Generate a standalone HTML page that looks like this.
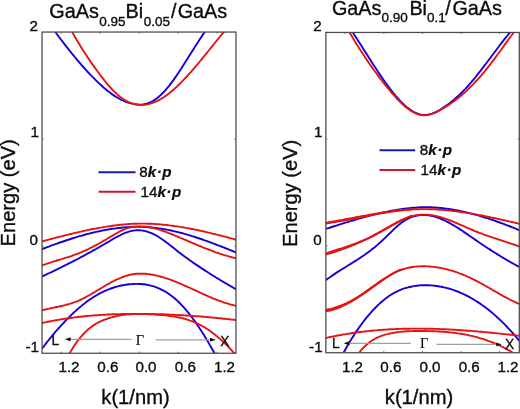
<!DOCTYPE html>
<html><head><meta charset="utf-8"><title>Band structure</title>
<style>
html,body{margin:0;padding:0;background:#fff;}
body{width:520px;height:409px;overflow:hidden;}
svg{display:block}
text{font-family:"Liberation Sans",sans-serif;fill:#0c0c0c;stroke:#0c0c0c;stroke-width:0.35px;}
.t{font-size:19.8px}
.a{font-size:20.2px}
.e{font-size:20.1px}
.s{font-size:13.5px}
.n{font-size:15.2px}
.g{font-size:15.2px}
.kp{font-weight:bold;font-style:italic;letter-spacing:0.5px;stroke-width:0.2px}
.sym{font-family:"Liberation Serif","DejaVu Serif",serif;font-size:14.5px;stroke-width:0.15px}
.lx{font-size:13.8px;stroke-width:0.3px}
</style></head><body>
<svg width="520" height="409" viewBox="0 0 520 409">
<rect width="520" height="409" fill="#fff"/>
<defs>
<clipPath id="cl"><rect x="42" y="32" width="194" height="321.4"/></clipPath>
<clipPath id="cr"><rect x="325.8" y="32.4" width="193.6" height="320.4"/></clipPath>
</defs>

<!-- LEFT PANEL -->
<g fill="none" stroke-width="1.9" stroke-linejoin="round" clip-path="url(#cl)">
<path d="M55.3,32.0 L56.8,34.0 L58.3,36.0 L59.8,38.0 L61.3,40.0 L62.8,41.9 L64.3,43.9 L65.8,45.8 L67.3,47.7 L68.8,49.6 L70.3,51.5 L71.8,53.4 L73.3,55.2 L74.8,57.0 L76.3,58.8 L77.8,60.6 L79.3,62.4 L80.8,64.1 L82.3,65.8 L83.8,67.5 L85.3,69.2 L86.8,70.8 L88.3,72.5 L89.8,74.1 L91.3,75.6 L92.8,77.2 L94.3,78.7 L95.8,80.2 L97.3,81.6 L98.8,83.1 L100.3,84.5 L101.8,85.8 L103.3,87.2 L104.8,88.5 L106.3,89.7 L107.8,91.0 L109.3,92.1 L110.8,93.3 L112.3,94.4 L113.8,95.4 L115.3,96.4 L116.8,97.3 L118.3,98.2 L119.8,99.0 L121.3,99.8 L122.8,100.5 L124.3,101.2 L125.8,101.8 L127.3,102.3 L128.8,102.8 L130.3,103.2 L131.8,103.6 L133.3,103.9 L134.8,104.2 L136.3,104.4 L137.8,104.5 L139.3,104.6 L140.8,104.6 L142.3,104.5 L143.8,104.3 L145.3,104.0 L146.8,103.6 L148.3,103.1 L149.8,102.5 L151.3,101.8 L152.8,101.0 L154.3,100.1 L155.8,99.1 L157.3,98.0 L158.8,96.7 L160.3,95.4 L161.8,94.0 L163.3,92.5 L164.8,90.9 L166.3,89.2 L167.8,87.4 L169.3,85.6 L170.8,83.6 L172.3,81.6 L173.8,79.6 L175.3,77.4 L176.8,75.2 L178.3,73.0 L179.8,70.7 L181.3,68.4 L182.8,66.1 L184.3,63.7 L185.8,61.3 L187.3,59.0 L188.8,56.6 L190.3,54.2 L191.8,51.8 L193.3,49.4 L194.8,47.1 L196.3,44.7 L197.8,42.4 L199.3,40.1 L200.8,37.8 L202.3,35.6 L203.8,33.3 L205.0,31.6" stroke="#1500d8"/>
<path d="M72.3,32.2 L73.8,34.9 L75.3,37.5 L76.8,40.1 L78.3,42.6 L79.8,45.1 L81.3,47.5 L82.8,49.9 L84.3,52.2 L85.8,54.5 L87.3,56.8 L88.8,59.0 L90.3,61.2 L91.8,63.4 L93.3,65.5 L94.8,67.6 L96.3,69.7 L97.8,71.8 L99.3,73.8 L100.8,75.8 L102.3,77.7 L103.8,79.6 L105.3,81.5 L106.8,83.3 L108.3,85.1 L109.8,86.8 L111.3,88.5 L112.8,90.1 L114.3,91.6 L115.8,93.0 L117.3,94.4 L118.8,95.7 L120.3,96.9 L121.8,98.0 L123.3,99.0 L124.8,100.0 L126.3,100.8 L127.8,101.6 L129.3,102.3 L130.8,102.9 L132.3,103.4 L133.8,103.9 L135.3,104.2 L136.8,104.5 L138.3,104.7 L139.8,104.9 L141.3,104.9 L142.8,104.9 L144.3,104.8 L145.8,104.6 L147.3,104.4 L148.8,104.1 L150.3,103.7 L151.8,103.2 L153.3,102.7 L154.8,102.1 L156.3,101.4 L157.8,100.7 L159.3,99.9 L160.8,99.0 L162.3,98.1 L163.8,97.2 L165.3,96.1 L166.8,95.1 L168.3,93.9 L169.8,92.8 L171.3,91.5 L172.8,90.3 L174.3,89.0 L175.8,87.6 L177.3,86.2 L178.8,84.8 L180.3,83.3 L181.8,81.8 L183.3,80.2 L184.8,78.6 L186.3,77.0 L187.8,75.4 L189.3,73.7 L190.8,72.1 L192.3,70.3 L193.8,68.6 L195.3,66.8 L196.8,65.1 L198.3,63.3 L199.8,61.5 L201.3,59.7 L202.8,57.8 L204.3,56.0 L205.8,54.2 L207.3,52.3 L208.8,50.5 L210.3,48.6 L211.8,46.7 L213.3,44.9 L214.8,43.0 L216.3,41.2 L217.8,39.3 L219.3,37.5 L220.8,35.7 L222.3,33.9 L223.8,32.1 L224.3,31.5" stroke="#e61212"/>
<path d="M42.0,249.1 L43.5,248.5 L45.0,248.0 L46.5,247.4 L48.0,246.8 L49.5,246.3 L51.0,245.7 L52.5,245.2 L54.0,244.6 L55.5,244.1 L57.0,243.6 L58.5,243.0 L60.0,242.5 L61.5,242.0 L63.0,241.5 L64.5,241.0 L66.0,240.5 L67.5,240.0 L69.0,239.5 L70.5,239.0 L72.0,238.5 L73.5,238.0 L75.0,237.6 L76.5,237.1 L78.0,236.7 L79.5,236.2 L81.0,235.8 L82.5,235.4 L84.0,235.0 L85.5,234.5 L87.0,234.1 L88.5,233.8 L90.0,233.4 L91.5,233.0 L93.0,232.6 L94.5,232.3 L96.0,231.9 L97.5,231.6 L99.0,231.3 L100.5,231.0 L102.0,230.6 L103.5,230.3 L105.0,230.1 L106.5,229.8 L108.0,229.5 L109.5,229.3 L111.0,229.0 L112.5,228.8 L114.0,228.6 L115.5,228.4 L117.0,228.2 L118.5,228.0 L120.0,227.8 L121.5,227.7 L123.0,227.5 L124.5,227.4 L126.0,227.3 L127.5,227.2 L129.0,227.1 L130.5,227.0 L132.0,227.0 L133.5,226.9 L135.0,226.9 L136.5,226.9 L138.0,226.9 L139.5,226.9 L141.0,226.9 L142.5,226.9 L144.0,227.0 L145.5,227.0 L147.0,227.1 L148.5,227.2 L150.0,227.4 L151.5,227.5 L153.0,227.6 L154.5,227.8 L156.0,228.0 L157.5,228.2 L159.0,228.4 L160.5,228.6 L162.0,228.8 L163.5,229.1 L165.0,229.3 L166.5,229.6 L168.0,229.9 L169.5,230.2 L171.0,230.5 L172.5,230.8 L174.0,231.2 L175.5,231.5 L177.0,231.9 L178.5,232.3 L180.0,232.6 L181.5,233.0 L183.0,233.4 L184.5,233.9 L186.0,234.3 L187.5,234.7 L189.0,235.2 L190.5,235.6 L192.0,236.1 L193.5,236.5 L195.0,237.0 L196.5,237.5 L198.0,238.0 L199.5,238.5 L201.0,239.0 L202.5,239.5 L204.0,240.1 L205.5,240.6 L207.0,241.1 L208.5,241.7 L210.0,242.2 L211.5,242.8 L213.0,243.3 L214.5,243.9 L216.0,244.5 L217.5,245.1 L219.0,245.6 L220.5,246.2 L222.0,246.8 L223.5,247.4 L225.0,248.0 L226.5,248.6 L228.0,249.2 L229.5,249.8 L231.0,250.4 L232.5,251.0 L234.0,251.6 L235.5,252.3 L236.8,252.8" stroke="#1500d8"/>
<path d="M42.0,276.5 L43.5,275.8 L45.0,275.1 L46.5,274.4 L48.0,273.7 L49.5,273.0 L51.0,272.3 L52.5,271.6 L54.0,270.8 L55.5,270.1 L57.0,269.4 L58.5,268.6 L60.0,267.9 L61.5,267.2 L63.0,266.4 L64.5,265.7 L66.0,264.9 L67.5,264.2 L69.0,263.4 L70.5,262.6 L72.0,261.9 L73.5,261.1 L75.0,260.3 L76.5,259.5 L78.0,258.8 L79.5,258.0 L81.0,257.2 L82.5,256.4 L84.0,255.6 L85.5,254.8 L87.0,253.9 L88.5,253.1 L90.0,252.3 L91.5,251.5 L93.0,250.6 L94.5,249.8 L96.0,249.0 L97.5,248.1 L99.0,247.3 L100.5,246.4 L102.0,245.5 L103.5,244.7 L105.0,243.8 L106.5,242.9 L108.0,242.1 L109.5,241.2 L111.0,240.3 L112.5,239.4 L114.0,238.5 L115.5,237.7 L117.0,236.8 L118.5,236.0 L120.0,235.3 L121.5,234.5 L123.0,233.8 L124.5,233.2 L126.0,232.6 L127.5,232.1 L129.0,231.6 L130.5,231.2 L132.0,230.8 L133.5,230.6 L135.0,230.4 L136.5,230.3 L138.0,230.2 L139.5,230.3 L141.0,230.4 L142.5,230.6 L144.0,230.8 L145.5,231.2 L147.0,231.6 L148.5,232.1 L150.0,232.6 L151.5,233.2 L153.0,233.9 L154.5,234.6 L156.0,235.4 L157.5,236.3 L159.0,237.2 L160.5,238.2 L162.0,239.2 L163.5,240.2 L165.0,241.3 L166.5,242.5 L168.0,243.6 L169.5,244.8 L171.0,245.9 L172.5,247.1 L174.0,248.3 L175.5,249.5 L177.0,250.7 L178.5,251.9 L180.0,253.0 L181.5,254.2 L183.0,255.3 L184.5,256.4 L186.0,257.5 L187.5,258.6 L189.0,259.7 L190.5,260.8 L192.0,261.8 L193.5,262.9 L195.0,263.9 L196.5,264.9 L198.0,265.9 L199.5,266.9 L201.0,267.9 L202.5,268.9 L204.0,269.9 L205.5,270.9 L207.0,271.8 L208.5,272.8 L210.0,273.7 L211.5,274.7 L213.0,275.6 L214.5,276.5 L216.0,277.5 L217.5,278.4 L219.0,279.3 L220.5,280.2 L222.0,281.1 L223.5,282.0 L225.0,282.9 L226.5,283.7 L228.0,284.6 L229.5,285.5 L231.0,286.4 L232.5,287.2 L234.0,288.1 L235.5,289.0 L236.8,289.7" stroke="#1500d8"/>
<path d="M41.9,348.8 L43.4,346.8 L44.9,344.9 L46.4,342.9 L47.9,341.0 L49.4,339.1 L50.9,337.3 L52.4,335.4 L53.9,333.7 L55.4,331.9 L56.9,330.2 L58.4,328.5 L59.9,326.8 L61.4,325.2 L62.9,323.6 L64.4,322.0 L65.9,320.4 L67.4,318.9 L68.9,317.4 L70.4,315.9 L71.9,314.4 L73.4,313.0 L74.9,311.6 L76.4,310.3 L77.9,308.9 L79.4,307.6 L80.9,306.4 L82.4,305.1 L83.9,303.9 L85.4,302.8 L86.9,301.6 L88.4,300.5 L89.9,299.5 L91.4,298.5 L92.9,297.5 L94.4,296.5 L95.9,295.6 L97.4,294.8 L98.9,293.9 L100.4,293.1 L101.9,292.4 L103.4,291.6 L104.9,290.9 L106.4,290.3 L107.9,289.6 L109.4,289.1 L110.9,288.5 L112.4,288.0 L113.9,287.5 L115.4,287.0 L116.9,286.6 L118.4,286.2 L119.9,285.8 L121.4,285.5 L122.9,285.2 L124.4,284.9 L125.9,284.7 L127.4,284.5 L128.9,284.3 L130.4,284.2 L131.9,284.1 L133.4,284.0 L134.9,283.9 L136.4,283.9 L137.9,283.9 L139.4,284.0 L140.9,284.0 L142.4,284.2 L143.9,284.3 L145.4,284.5 L146.9,284.8 L148.4,285.1 L149.9,285.4 L151.4,285.8 L152.9,286.2 L154.4,286.7 L155.9,287.2 L157.4,287.8 L158.9,288.4 L160.4,289.1 L161.9,289.8 L163.4,290.6 L164.9,291.4 L166.4,292.3 L167.9,293.3 L169.4,294.3 L170.9,295.4 L172.4,296.5 L173.9,297.7 L175.4,299.0 L176.9,300.4 L178.4,301.8 L179.9,303.2 L181.4,304.8 L182.9,306.4 L184.4,308.1 L185.9,309.8 L187.4,311.6 L188.9,313.4 L190.4,315.4 L191.9,317.3 L193.4,319.4 L194.9,321.4 L196.4,323.6 L197.9,325.8 L199.4,328.0 L200.9,330.3 L202.4,332.6 L203.9,335.0 L205.4,337.5 L206.9,340.0 L208.4,342.5 L209.9,345.1 L211.4,347.7 L212.9,350.3 L214.4,353.0 L214.8,353.8" stroke="#1500d8"/>
<path d="M42.0,241.4 L43.5,241.0 L45.0,240.6 L46.5,240.2 L48.0,239.8 L49.5,239.4 L51.0,239.0 L52.5,238.6 L54.0,238.2 L55.5,237.8 L57.0,237.4 L58.5,237.0 L60.0,236.7 L61.5,236.3 L63.0,235.9 L64.5,235.5 L66.0,235.1 L67.5,234.8 L69.0,234.4 L70.5,234.0 L72.0,233.7 L73.5,233.3 L75.0,233.0 L76.5,232.6 L78.0,232.3 L79.5,231.9 L81.0,231.6 L82.5,231.2 L84.0,230.9 L85.5,230.6 L87.0,230.3 L88.5,229.9 L90.0,229.6 L91.5,229.3 L93.0,229.0 L94.5,228.7 L96.0,228.5 L97.5,228.2 L99.0,227.9 L100.5,227.6 L102.0,227.4 L103.5,227.1 L105.0,226.9 L106.5,226.6 L108.0,226.4 L109.5,226.2 L111.0,226.0 L112.5,225.7 L114.0,225.5 L115.5,225.4 L117.0,225.2 L118.5,225.0 L120.0,224.8 L121.5,224.7 L123.0,224.5 L124.5,224.4 L126.0,224.3 L127.5,224.1 L129.0,224.0 L130.5,223.9 L132.0,223.9 L133.5,223.8 L135.0,223.7 L136.5,223.7 L138.0,223.6 L139.5,223.6 L141.0,223.6 L142.5,223.6 L144.0,223.6 L145.5,223.6 L147.0,223.7 L148.5,223.7 L150.0,223.8 L151.5,223.8 L153.0,223.9 L154.5,224.0 L156.0,224.1 L157.5,224.2 L159.0,224.3 L160.5,224.4 L162.0,224.6 L163.5,224.7 L165.0,224.9 L166.5,225.0 L168.0,225.2 L169.5,225.4 L171.0,225.6 L172.5,225.7 L174.0,226.0 L175.5,226.2 L177.0,226.4 L178.5,226.6 L180.0,226.9 L181.5,227.1 L183.0,227.3 L184.5,227.6 L186.0,227.9 L187.5,228.1 L189.0,228.4 L190.5,228.7 L192.0,229.0 L193.5,229.3 L195.0,229.6 L196.5,229.9 L198.0,230.2 L199.5,230.5 L201.0,230.9 L202.5,231.2 L204.0,231.5 L205.5,231.9 L207.0,232.2 L208.5,232.6 L210.0,232.9 L211.5,233.3 L213.0,233.7 L214.5,234.0 L216.0,234.4 L217.5,234.8 L219.0,235.2 L220.5,235.5 L222.0,235.9 L223.5,236.3 L225.0,236.7 L226.5,237.1 L228.0,237.5 L229.5,237.9 L231.0,238.3 L232.5,238.7 L234.0,239.1 L235.5,239.5 L236.8,239.9" stroke="#e61212"/>
<path d="M42.0,265.5 L43.5,264.9 L45.0,264.4 L46.5,263.9 L48.0,263.4 L49.5,262.9 L51.0,262.4 L52.5,261.9 L54.0,261.4 L55.5,261.0 L57.0,260.5 L58.5,260.0 L60.0,259.6 L61.5,259.1 L63.0,258.7 L64.5,258.2 L66.0,257.7 L67.5,257.3 L69.0,256.8 L70.5,256.3 L72.0,255.8 L73.5,255.2 L75.0,254.7 L76.5,254.1 L78.0,253.6 L79.5,253.0 L81.0,252.3 L82.5,251.7 L84.0,251.0 L85.5,250.4 L87.0,249.7 L88.5,249.0 L90.0,248.2 L91.5,247.5 L93.0,246.7 L94.5,245.9 L96.0,245.1 L97.5,244.3 L99.0,243.5 L100.5,242.6 L102.0,241.8 L103.5,240.9 L105.0,240.1 L106.5,239.2 L108.0,238.3 L109.5,237.4 L111.0,236.5 L112.5,235.6 L114.0,234.7 L115.5,233.9 L117.0,233.0 L118.5,232.2 L120.0,231.4 L121.5,230.6 L123.0,229.9 L124.5,229.3 L126.0,228.7 L127.5,228.2 L129.0,227.7 L130.5,227.4 L132.0,227.0 L133.5,226.8 L135.0,226.6 L136.5,226.5 L138.0,226.4 L139.5,226.3 L141.0,226.4 L142.5,226.4 L144.0,226.5 L145.5,226.7 L147.0,226.9 L148.5,227.1 L150.0,227.4 L151.5,227.7 L153.0,228.0 L154.5,228.4 L156.0,228.7 L157.5,229.2 L159.0,229.6 L160.5,230.1 L162.0,230.6 L163.5,231.1 L165.0,231.6 L166.5,232.2 L168.0,232.8 L169.5,233.3 L171.0,233.9 L172.5,234.5 L174.0,235.2 L175.5,235.8 L177.0,236.4 L178.5,237.0 L180.0,237.7 L181.5,238.3 L183.0,238.9 L184.5,239.6 L186.0,240.2 L187.5,240.9 L189.0,241.5 L190.5,242.1 L192.0,242.8 L193.5,243.4 L195.0,244.0 L196.5,244.7 L198.0,245.3 L199.5,245.9 L201.0,246.5 L202.5,247.2 L204.0,247.8 L205.5,248.4 L207.0,248.9 L208.5,249.5 L210.0,250.1 L211.5,250.7 L213.0,251.2 L214.5,251.8 L216.0,252.3 L217.5,252.8 L219.0,253.4 L220.5,253.9 L222.0,254.3 L223.5,254.8 L225.0,255.3 L226.5,255.7 L228.0,256.2 L229.5,256.6 L231.0,257.0 L232.5,257.4 L234.0,257.7 L235.5,258.1 L236.8,258.4" stroke="#e61212"/>
<path d="M41.9,310.4 L43.4,310.0 L44.9,309.6 L46.4,309.2 L47.9,308.9 L49.4,308.6 L50.9,308.2 L52.4,307.9 L53.9,307.6 L55.4,307.3 L56.9,307.0 L58.4,306.7 L59.9,306.3 L61.4,306.0 L62.9,305.7 L64.4,305.3 L65.9,304.9 L67.4,304.5 L68.9,304.1 L70.4,303.7 L71.9,303.2 L73.4,302.7 L74.9,302.1 L76.4,301.6 L77.9,301.0 L79.4,300.3 L80.9,299.6 L82.4,298.9 L83.9,298.1 L85.4,297.3 L86.9,296.5 L88.4,295.7 L89.9,294.8 L91.4,294.0 L92.9,293.1 L94.4,292.2 L95.9,291.3 L97.4,290.4 L98.9,289.5 L100.4,288.6 L101.9,287.7 L103.4,286.8 L104.9,285.9 L106.4,285.0 L107.9,284.2 L109.4,283.4 L110.9,282.5 L112.4,281.7 L113.9,281.0 L115.4,280.2 L116.9,279.5 L118.4,278.8 L119.9,278.2 L121.4,277.5 L122.9,277.0 L124.4,276.4 L125.9,275.9 L127.4,275.5 L128.9,275.1 L130.4,274.7 L131.9,274.4 L133.4,274.2 L134.9,274.0 L136.4,273.8 L137.9,273.7 L139.4,273.7 L140.9,273.7 L142.4,273.7 L143.9,273.7 L145.4,273.8 L146.9,274.0 L148.4,274.1 L149.9,274.3 L151.4,274.6 L152.9,274.8 L154.4,275.1 L155.9,275.4 L157.4,275.8 L158.9,276.2 L160.4,276.5 L161.9,277.0 L163.4,277.4 L164.9,277.9 L166.4,278.4 L167.9,278.9 L169.4,279.4 L170.9,279.9 L172.4,280.5 L173.9,281.1 L175.4,281.7 L176.9,282.3 L178.4,282.9 L179.9,283.5 L181.4,284.2 L182.9,284.8 L184.4,285.5 L185.9,286.1 L187.4,286.8 L188.9,287.5 L190.4,288.2 L191.9,288.9 L193.4,289.5 L194.9,290.2 L196.4,290.9 L197.9,291.6 L199.4,292.3 L200.9,293.0 L202.4,293.7 L203.9,294.4 L205.4,295.0 L206.9,295.7 L208.4,296.3 L209.9,297.0 L211.4,297.6 L212.9,298.3 L214.4,298.9 L215.9,299.5 L217.4,300.1 L218.9,300.6 L220.4,301.2 L221.9,301.7 L223.4,302.3 L224.9,302.8 L226.4,303.2 L227.9,303.7 L229.4,304.1 L230.9,304.6 L232.4,304.9 L233.9,305.3 L235.4,305.7 L236.8,305.9" stroke="#e61212"/>
<path d="M41.9,323.1 L43.4,322.7 L44.9,322.4 L46.4,322.1 L47.9,321.8 L49.4,321.5 L50.9,321.2 L52.4,320.9 L53.9,320.6 L55.4,320.3 L56.9,320.1 L58.4,319.8 L59.9,319.6 L61.4,319.3 L62.9,319.1 L64.4,318.8 L65.9,318.6 L67.4,318.4 L68.9,318.2 L70.4,318.0 L71.9,317.8 L73.4,317.6 L74.9,317.4 L76.4,317.2 L77.9,317.0 L79.4,316.8 L80.9,316.7 L82.4,316.5 L83.9,316.3 L85.4,316.2 L86.9,316.0 L88.4,315.9 L89.9,315.8 L91.4,315.6 L92.9,315.5 L94.4,315.4 L95.9,315.3 L97.4,315.2 L98.9,315.1 L100.4,315.0 L101.9,314.9 L103.4,314.8 L104.9,314.7 L106.4,314.6 L107.9,314.5 L109.4,314.5 L110.9,314.4 L112.4,314.3 L113.9,314.3 L115.4,314.2 L116.9,314.2 L118.4,314.1 L119.9,314.1 L121.4,314.0 L122.9,314.0 L124.4,314.0 L125.9,313.9 L127.4,313.9 L128.9,313.9 L130.4,313.9 L131.9,313.9 L133.4,313.9 L134.9,313.9 L136.4,313.9 L137.9,313.9 L139.4,313.9 L140.9,313.9 L142.4,313.9 L143.9,313.9 L145.4,313.9 L146.9,313.9 L148.4,313.9 L149.9,314.0 L151.4,314.0 L152.9,314.0 L154.4,314.1 L155.9,314.1 L157.4,314.1 L158.9,314.2 L160.4,314.2 L161.9,314.3 L163.4,314.3 L164.9,314.4 L166.4,314.4 L167.9,314.5 L169.4,314.6 L170.9,314.6 L172.4,314.7 L173.9,314.8 L175.4,314.9 L176.9,314.9 L178.4,315.0 L179.9,315.1 L181.4,315.2 L182.9,315.3 L184.4,315.4 L185.9,315.5 L187.4,315.5 L188.9,315.6 L190.4,315.8 L191.9,315.9 L193.4,316.0 L194.9,316.1 L196.4,316.2 L197.9,316.3 L199.4,316.4 L200.9,316.5 L202.4,316.7 L203.9,316.8 L205.4,316.9 L206.9,317.0 L208.4,317.2 L209.9,317.3 L211.4,317.5 L212.9,317.6 L214.4,317.7 L215.9,317.9 L217.4,318.0 L218.9,318.2 L220.4,318.3 L221.9,318.5 L223.4,318.7 L224.9,318.8 L226.4,319.0 L227.9,319.1 L229.4,319.3 L230.9,319.5 L232.4,319.6 L233.9,319.8 L235.4,320.0 L236.8,320.2" stroke="#e61212"/>
<path d="M69.5,353.5 L71.0,350.9 L72.5,348.4 L74.0,346.1 L75.5,343.9 L77.0,341.8 L78.5,339.8 L80.0,337.9 L81.5,336.1 L83.0,334.5 L84.5,332.9 L86.0,331.4 L87.5,330.0 L89.0,328.8 L90.5,327.6 L92.0,326.4 L93.5,325.4 L95.0,324.4 L96.5,323.5 L98.0,322.7 L99.5,321.9 L101.0,321.2 L102.5,320.5 L104.0,319.9 L105.5,319.3 L107.0,318.8 L108.5,318.3 L110.0,317.8 L111.5,317.4 L113.0,317.0 L114.5,316.6 L116.0,316.3 L117.5,315.9 L119.0,315.6 L120.5,315.4 L122.0,315.1 L123.5,314.9 L125.0,314.7 L126.5,314.6 L128.0,314.4 L129.5,314.3 L131.0,314.2 L132.5,314.1 L134.0,314.0 L135.5,314.0 L137.0,314.0 L138.5,313.9 L140.0,313.9 L141.5,313.9 L143.0,314.0 L144.5,314.0 L146.0,314.1 L147.5,314.1 L149.0,314.2 L150.5,314.3 L152.0,314.4 L153.5,314.4 L155.0,314.6 L156.5,314.7 L158.0,314.8 L159.5,314.9 L161.0,315.0 L162.5,315.1 L164.0,315.3 L165.5,315.4 L167.0,315.6 L168.5,315.8 L170.0,316.0 L171.5,316.2 L173.0,316.4 L174.5,316.6 L176.0,316.9 L177.5,317.2 L179.0,317.5 L180.5,317.8 L182.0,318.1 L183.5,318.5 L185.0,318.9 L186.5,319.4 L188.0,319.8 L189.5,320.3 L191.0,320.9 L192.5,321.4 L194.0,322.1 L195.5,322.7 L197.0,323.4 L198.5,324.1 L200.0,324.9 L201.5,325.7 L203.0,326.5 L204.5,327.4 L206.0,328.3 L207.5,329.3 L209.0,330.3 L210.5,331.3 L212.0,332.4 L213.5,333.6 L215.0,334.7 L216.5,335.9 L218.0,337.2 L219.5,338.4 L221.0,339.8 L222.5,341.1 L224.0,342.5 L225.5,344.0 L227.0,345.4 L228.5,347.0 L230.0,348.5 L231.5,350.1 L233.0,351.8 L234.5,353.4 L234.8,353.8" stroke="#e61212"/>
</g>
<g fill="none" stroke-width="1.9" stroke-linejoin="round" clip-path="url(#cr)">
<path d="M352.6,32.1 L354.1,34.4 L355.6,36.7 L357.1,39.1 L358.6,41.4 L360.1,43.8 L361.6,46.1 L363.1,48.5 L364.6,50.9 L366.1,53.3 L367.6,55.6 L369.1,58.0 L370.6,60.3 L372.1,62.7 L373.6,65.0 L375.1,67.3 L376.6,69.6 L378.1,71.9 L379.6,74.1 L381.1,76.3 L382.6,78.5 L384.1,80.7 L385.6,82.8 L387.1,84.9 L388.6,86.9 L390.1,88.9 L391.6,90.8 L393.1,92.7 L394.6,94.5 L396.1,96.3 L397.6,98.0 L399.1,99.7 L400.6,101.3 L402.1,102.8 L403.6,104.2 L405.1,105.6 L406.6,106.9 L408.1,108.1 L409.6,109.3 L411.1,110.3 L412.6,111.2 L414.1,112.1 L415.6,112.8 L417.1,113.5 L418.6,114.0 L420.1,114.4 L421.6,114.7 L423.1,114.9 L424.6,114.9 L426.1,114.9 L427.6,114.7 L429.1,114.4 L430.6,114.0 L432.1,113.6 L433.6,113.0 L435.1,112.3 L436.6,111.6 L438.1,110.8 L439.6,110.0 L441.1,109.1 L442.6,108.1 L444.1,107.1 L445.6,106.1 L447.1,105.0 L448.6,103.9 L450.1,102.8 L451.6,101.6 L453.1,100.4 L454.6,99.1 L456.1,97.8 L457.6,96.5 L459.1,95.1 L460.6,93.6 L462.1,92.2 L463.6,90.6 L465.1,89.1 L466.6,87.5 L468.1,85.8 L469.6,84.1 L471.1,82.4 L472.6,80.6 L474.1,78.8 L475.6,77.0 L477.1,75.1 L478.6,73.2 L480.1,71.3 L481.6,69.4 L483.1,67.4 L484.6,65.4 L486.1,63.5 L487.6,61.5 L489.1,59.5 L490.6,57.5 L492.1,55.5 L493.6,53.5 L495.1,51.5 L496.6,49.5 L498.1,47.5 L499.6,45.5 L501.1,43.6 L502.6,41.6 L504.1,39.7 L505.6,37.8 L507.1,36.0 L508.6,34.1 L510.1,32.3 L510.4,32.0" stroke="#1500d8"/>
<path d="M349.3,32.1 L350.8,34.6 L352.3,37.1 L353.8,39.6 L355.3,42.0 L356.8,44.5 L358.3,46.8 L359.8,49.2 L361.3,51.5 L362.8,53.8 L364.3,56.1 L365.8,58.4 L367.3,60.6 L368.8,62.8 L370.3,65.0 L371.8,67.1 L373.3,69.2 L374.8,71.3 L376.3,73.3 L377.8,75.4 L379.3,77.4 L380.8,79.3 L382.3,81.3 L383.8,83.2 L385.3,85.1 L386.8,86.9 L388.3,88.7 L389.8,90.5 L391.3,92.3 L392.8,94.0 L394.3,95.7 L395.8,97.4 L397.3,99.0 L398.8,100.5 L400.3,102.0 L401.8,103.5 L403.3,104.8 L404.8,106.2 L406.3,107.4 L407.8,108.6 L409.3,109.7 L410.8,110.7 L412.3,111.6 L413.8,112.4 L415.3,113.1 L416.8,113.8 L418.3,114.3 L419.8,114.7 L421.3,115.0 L422.8,115.2 L424.3,115.2 L425.8,115.2 L427.3,115.0 L428.8,114.7 L430.3,114.4 L431.8,113.9 L433.3,113.4 L434.8,112.8 L436.3,112.1 L437.8,111.3 L439.3,110.6 L440.8,109.7 L442.3,108.8 L443.8,108.0 L445.3,107.0 L446.8,106.1 L448.3,105.1 L449.8,104.1 L451.3,103.1 L452.8,102.0 L454.3,100.9 L455.8,99.8 L457.3,98.7 L458.8,97.5 L460.3,96.3 L461.8,95.0 L463.3,93.7 L464.8,92.4 L466.3,91.1 L467.8,89.6 L469.3,88.2 L470.8,86.7 L472.3,85.2 L473.8,83.6 L475.3,82.0 L476.8,80.4 L478.3,78.8 L479.8,77.1 L481.3,75.3 L482.8,73.6 L484.3,71.8 L485.8,69.9 L487.3,68.1 L488.8,66.2 L490.3,64.3 L491.8,62.3 L493.3,60.4 L494.8,58.4 L496.3,56.3 L497.8,54.3 L499.3,52.2 L500.8,50.2 L502.3,48.1 L503.8,46.0 L505.3,43.9 L506.8,41.8 L508.3,39.7 L509.8,37.7 L511.3,35.7 L512.8,33.7 L514.2,31.9" stroke="#e61212"/>
<path d="M325.8,228.9 L327.3,228.4 L328.8,228.0 L330.3,227.5 L331.8,227.0 L333.3,226.5 L334.8,226.0 L336.3,225.6 L337.8,225.1 L339.3,224.6 L340.8,224.1 L342.3,223.7 L343.8,223.2 L345.3,222.7 L346.8,222.3 L348.3,221.8 L349.8,221.4 L351.3,220.9 L352.8,220.5 L354.3,220.0 L355.8,219.6 L357.3,219.1 L358.8,218.7 L360.3,218.3 L361.8,217.8 L363.3,217.4 L364.8,217.0 L366.3,216.6 L367.8,216.2 L369.3,215.8 L370.8,215.4 L372.3,215.0 L373.8,214.6 L375.3,214.3 L376.8,213.9 L378.3,213.5 L379.8,213.2 L381.3,212.8 L382.8,212.5 L384.3,212.2 L385.8,211.9 L387.3,211.6 L388.8,211.2 L390.3,211.0 L391.8,210.7 L393.3,210.4 L394.8,210.1 L396.3,209.9 L397.8,209.6 L399.3,209.4 L400.8,209.2 L402.3,208.9 L403.8,208.7 L405.3,208.6 L406.8,208.4 L408.3,208.2 L409.8,208.1 L411.3,207.9 L412.8,207.8 L414.3,207.7 L415.8,207.6 L417.3,207.5 L418.8,207.4 L420.3,207.3 L421.8,207.3 L423.3,207.3 L424.8,207.2 L426.3,207.2 L427.8,207.3 L429.3,207.3 L430.8,207.3 L432.3,207.4 L433.8,207.5 L435.3,207.5 L436.8,207.7 L438.3,207.8 L439.8,207.9 L441.3,208.0 L442.8,208.2 L444.3,208.4 L445.8,208.6 L447.3,208.8 L448.8,209.0 L450.3,209.2 L451.8,209.4 L453.3,209.7 L454.8,210.0 L456.3,210.2 L457.8,210.5 L459.3,210.8 L460.8,211.1 L462.3,211.5 L463.8,211.8 L465.3,212.1 L466.8,212.5 L468.3,212.8 L469.8,213.2 L471.3,213.6 L472.8,214.0 L474.3,214.4 L475.8,214.8 L477.3,215.2 L478.8,215.7 L480.3,216.1 L481.8,216.6 L483.3,217.0 L484.8,217.5 L486.3,217.9 L487.8,218.4 L489.3,218.9 L490.8,219.4 L492.3,219.9 L493.8,220.4 L495.3,220.9 L496.8,221.5 L498.3,222.0 L499.8,222.5 L501.3,223.1 L502.8,223.6 L504.3,224.2 L505.8,224.8 L507.3,225.3 L508.8,225.9 L510.3,226.5 L511.8,227.1 L513.3,227.7 L514.8,228.3 L516.3,228.9 L517.8,229.6 L519.3,230.2 L519.4,230.2" stroke="#1500d8"/>
<path d="M325.8,280.2 L327.3,279.1 L328.8,278.0 L330.3,277.0 L331.8,275.9 L333.3,274.9 L334.8,273.9 L336.3,272.9 L337.8,271.9 L339.3,270.9 L340.8,270.0 L342.3,269.0 L343.8,268.1 L345.3,267.2 L346.8,266.2 L348.3,265.3 L349.8,264.4 L351.3,263.4 L352.8,262.5 L354.3,261.6 L355.8,260.6 L357.3,259.7 L358.8,258.7 L360.3,257.7 L361.8,256.7 L363.3,255.7 L364.8,254.7 L366.3,253.6 L367.8,252.5 L369.3,251.4 L370.8,250.3 L372.3,249.1 L373.8,247.9 L375.3,246.7 L376.8,245.4 L378.3,244.1 L379.8,242.8 L381.3,241.4 L382.8,240.0 L384.3,238.6 L385.8,237.2 L387.3,235.7 L388.8,234.2 L390.3,232.8 L391.8,231.3 L393.3,229.8 L394.8,228.4 L396.3,227.0 L397.8,225.7 L399.3,224.4 L400.8,223.2 L402.3,222.1 L403.8,221.1 L405.3,220.2 L406.8,219.3 L408.3,218.5 L409.8,217.9 L411.3,217.2 L412.8,216.7 L414.3,216.3 L415.8,215.9 L417.3,215.6 L418.8,215.3 L420.3,215.1 L421.8,215.0 L423.3,215.0 L424.8,215.0 L426.3,215.1 L427.8,215.2 L429.3,215.4 L430.8,215.7 L432.3,216.0 L433.8,216.4 L435.3,216.8 L436.8,217.3 L438.3,217.8 L439.8,218.4 L441.3,219.0 L442.8,219.6 L444.3,220.3 L445.8,221.0 L447.3,221.8 L448.8,222.6 L450.3,223.4 L451.8,224.3 L453.3,225.1 L454.8,226.0 L456.3,227.0 L457.8,227.9 L459.3,228.9 L460.8,229.9 L462.3,230.8 L463.8,231.9 L465.3,232.9 L466.8,233.9 L468.3,234.9 L469.8,236.0 L471.3,237.0 L472.8,238.0 L474.3,239.1 L475.8,240.1 L477.3,241.1 L478.8,242.2 L480.3,243.2 L481.8,244.2 L483.3,245.2 L484.8,246.2 L486.3,247.2 L487.8,248.2 L489.3,249.1 L490.8,250.1 L492.3,251.1 L493.8,252.0 L495.3,253.0 L496.8,253.9 L498.3,254.9 L499.8,255.8 L501.3,256.7 L502.8,257.6 L504.3,258.5 L505.8,259.4 L507.3,260.3 L508.8,261.1 L510.3,262.0 L511.8,262.8 L513.3,263.7 L514.8,264.5 L516.3,265.3 L517.8,266.1 L519.3,266.9 L519.4,267.0" stroke="#1500d8"/>
<path d="M343.6,352.8 L345.1,350.0 L346.6,347.3 L348.1,344.7 L349.6,342.1 L351.1,339.6 L352.6,337.2 L354.1,334.9 L355.6,332.6 L357.1,330.4 L358.6,328.2 L360.1,326.1 L361.6,324.0 L363.1,322.0 L364.6,320.1 L366.1,318.2 L367.6,316.4 L369.1,314.6 L370.6,312.9 L372.1,311.2 L373.6,309.6 L375.1,308.0 L376.6,306.5 L378.1,305.0 L379.6,303.6 L381.1,302.3 L382.6,301.0 L384.1,299.7 L385.6,298.5 L387.1,297.4 L388.6,296.3 L390.1,295.3 L391.6,294.4 L393.1,293.5 L394.6,292.6 L396.1,291.9 L397.6,291.1 L399.1,290.4 L400.6,289.8 L402.1,289.2 L403.6,288.7 L405.1,288.2 L406.6,287.8 L408.1,287.4 L409.6,287.0 L411.1,286.7 L412.6,286.4 L414.1,286.1 L415.6,285.9 L417.1,285.7 L418.6,285.5 L420.1,285.4 L421.6,285.3 L423.1,285.3 L424.6,285.2 L426.1,285.2 L427.6,285.3 L429.1,285.3 L430.6,285.4 L432.1,285.5 L433.6,285.6 L435.1,285.8 L436.6,286.0 L438.1,286.2 L439.6,286.5 L441.1,286.7 L442.6,287.0 L444.1,287.4 L445.6,287.7 L447.1,288.1 L448.6,288.5 L450.1,288.9 L451.6,289.4 L453.1,289.9 L454.6,290.4 L456.1,291.0 L457.6,291.5 L459.1,292.1 L460.6,292.8 L462.1,293.4 L463.6,294.1 L465.1,294.8 L466.6,295.6 L468.1,296.4 L469.6,297.2 L471.1,298.0 L472.6,298.9 L474.1,299.8 L475.6,300.7 L477.1,301.6 L478.6,302.6 L480.1,303.6 L481.6,304.7 L483.1,305.7 L484.6,306.8 L486.1,308.0 L487.6,309.1 L489.1,310.3 L490.6,311.5 L492.1,312.8 L493.6,314.1 L495.1,315.4 L496.6,316.7 L498.1,318.1 L499.6,319.5 L501.1,320.9 L502.6,322.4 L504.1,323.9 L505.6,325.4 L507.1,327.0 L508.6,328.6 L510.1,330.2 L511.6,331.8 L513.1,333.5 L514.6,335.2 L516.1,337.0 L517.6,338.8 L519.1,340.6 L519.4,340.9" stroke="#1500d8"/>
<path d="M325.8,222.8 L327.3,222.6 L328.8,222.3 L330.3,222.0 L331.8,221.8 L333.3,221.5 L334.8,221.2 L336.3,221.0 L337.8,220.7 L339.3,220.4 L340.8,220.1 L342.3,219.9 L343.8,219.6 L345.3,219.3 L346.8,219.0 L348.3,218.7 L349.8,218.4 L351.3,218.2 L352.8,217.9 L354.3,217.6 L355.8,217.3 L357.3,217.0 L358.8,216.7 L360.3,216.5 L361.8,216.2 L363.3,215.9 L364.8,215.6 L366.3,215.4 L367.8,215.1 L369.3,214.8 L370.8,214.6 L372.3,214.3 L373.8,214.1 L375.3,213.8 L376.8,213.6 L378.3,213.3 L379.8,213.1 L381.3,212.9 L382.8,212.6 L384.3,212.4 L385.8,212.2 L387.3,212.0 L388.8,211.8 L390.3,211.6 L391.8,211.4 L393.3,211.2 L394.8,211.0 L396.3,210.8 L397.8,210.6 L399.3,210.5 L400.8,210.3 L402.3,210.2 L403.8,210.1 L405.3,209.9 L406.8,209.8 L408.3,209.7 L409.8,209.6 L411.3,209.5 L412.8,209.4 L414.3,209.3 L415.8,209.3 L417.3,209.2 L418.8,209.2 L420.3,209.1 L421.8,209.1 L423.3,209.1 L424.8,209.1 L426.3,209.1 L427.8,209.1 L429.3,209.2 L430.8,209.2 L432.3,209.3 L433.8,209.3 L435.3,209.4 L436.8,209.5 L438.3,209.6 L439.8,209.7 L441.3,209.8 L442.8,209.9 L444.3,210.0 L445.8,210.2 L447.3,210.3 L448.8,210.5 L450.3,210.6 L451.8,210.8 L453.3,211.0 L454.8,211.1 L456.3,211.3 L457.8,211.5 L459.3,211.7 L460.8,212.0 L462.3,212.2 L463.8,212.4 L465.3,212.6 L466.8,212.9 L468.3,213.1 L469.8,213.4 L471.3,213.6 L472.8,213.9 L474.3,214.1 L475.8,214.4 L477.3,214.7 L478.8,215.0 L480.3,215.2 L481.8,215.5 L483.3,215.8 L484.8,216.1 L486.3,216.4 L487.8,216.7 L489.3,217.0 L490.8,217.4 L492.3,217.7 L493.8,218.0 L495.3,218.3 L496.8,218.6 L498.3,219.0 L499.8,219.3 L501.3,219.6 L502.8,220.0 L504.3,220.3 L505.8,220.6 L507.3,221.0 L508.8,221.3 L510.3,221.7 L511.8,222.0 L513.3,222.3 L514.8,222.7 L516.3,223.0 L517.8,223.4 L519.3,223.7 L519.4,223.7" stroke="#e61212"/>
<path d="M325.8,223.5 L327.3,223.3 L328.8,223.1 L330.3,222.8 L331.8,222.6 L333.3,222.4 L334.8,222.1 L336.3,221.9 L337.8,221.6 L339.3,221.4 L340.8,221.1 L342.3,220.8 L343.8,220.6 L345.3,220.3 L346.8,220.0 L348.3,219.7 L349.8,219.4 L351.3,219.1 L352.8,218.8 L354.3,218.5 L355.8,218.3 L357.3,218.0 L358.8,217.7 L360.3,217.4 L361.8,217.1 L363.3,216.8 L364.8,216.5 L366.3,216.2 L367.8,215.9 L369.3,215.6 L370.8,215.3 L372.3,215.0 L373.8,214.7 L375.3,214.4 L376.8,214.1 L378.3,213.9 L379.8,213.6 L381.3,213.3 L382.8,213.1 L384.3,212.8 L385.8,212.5 L387.3,212.3 L388.8,212.0 L390.3,211.8 L391.8,211.6 L393.3,211.4 L394.8,211.1 L396.3,210.9 L397.8,210.7 L399.3,210.5 L400.8,210.4 L402.3,210.2 L403.8,210.0 L405.3,209.9 L406.8,209.7 L408.3,209.6 L409.8,209.5 L411.3,209.3 L412.1,209.3" stroke="#e61212"/>
<path d="M325.8,253.3 L327.3,252.8 L328.8,252.4 L330.3,251.9 L331.8,251.4 L333.3,250.9 L334.8,250.5 L336.3,250.0 L337.8,249.5 L339.3,249.0 L340.8,248.6 L342.3,248.1 L343.8,247.6 L345.3,247.1 L346.8,246.6 L348.3,246.1 L349.8,245.6 L351.3,245.0 L352.8,244.5 L354.3,243.9 L355.8,243.4 L357.3,242.8 L358.8,242.2 L360.3,241.6 L361.8,241.0 L363.3,240.3 L364.8,239.7 L366.3,239.0 L367.8,238.3 L369.3,237.5 L370.8,236.8 L372.3,236.0 L373.8,235.2 L375.3,234.4 L376.8,233.6 L378.3,232.8 L379.8,231.9 L381.3,231.1 L382.8,230.2 L384.3,229.4 L385.8,228.5 L387.3,227.7 L388.8,226.8 L390.3,226.0 L391.8,225.1 L393.3,224.3 L394.8,223.5 L396.3,222.7 L397.8,221.9 L399.3,221.2 L400.8,220.4 L402.3,219.7 L403.8,219.1 L405.3,218.4 L406.8,217.8 L408.3,217.3 L409.8,216.8 L411.3,216.4 L412.8,216.0 L414.3,215.6 L415.8,215.3 L417.3,215.1 L418.8,214.9 L420.3,214.8 L421.8,214.7 L423.3,214.6 L424.8,214.6 L426.3,214.7 L427.8,214.8 L429.3,214.9 L430.8,215.1 L432.3,215.3 L433.8,215.6 L435.3,215.9 L436.8,216.2 L438.3,216.6 L439.8,217.0 L441.3,217.4 L442.8,217.9 L444.3,218.4 L445.8,218.9 L447.3,219.4 L448.8,220.0 L450.3,220.5 L451.8,221.1 L453.3,221.7 L454.8,222.4 L456.3,223.0 L457.8,223.6 L459.3,224.3 L460.8,224.9 L462.3,225.6 L463.8,226.2 L465.3,226.9 L466.8,227.6 L468.3,228.2 L469.8,228.9 L471.3,229.5 L472.8,230.1 L474.3,230.8 L475.8,231.4 L477.3,232.0 L478.8,232.6 L480.3,233.1 L481.8,233.7 L483.3,234.3 L484.8,234.8 L486.3,235.3 L487.8,235.9 L489.3,236.4 L490.8,236.9 L492.3,237.4 L493.8,237.9 L495.3,238.4 L496.8,238.9 L498.3,239.4 L499.8,239.9 L501.3,240.4 L502.8,240.9 L504.3,241.4 L505.8,241.9 L507.3,242.4 L508.8,242.9 L510.3,243.4 L511.8,243.9 L513.3,244.4 L514.8,244.9 L516.3,245.4 L517.8,246.0 L519.3,246.5 L519.4,246.5" stroke="#e61212"/>
<path d="M325.8,254.6 L327.3,254.2 L328.8,253.7 L330.3,253.3 L331.8,252.8 L333.3,252.3 L334.8,251.8 L336.3,251.3 L337.8,250.8 L339.3,250.3 L340.8,249.8 L342.3,249.2 L343.8,248.7 L345.3,248.1 L346.8,247.6 L348.3,247.0 L349.8,246.4 L351.3,245.8 L352.8,245.2 L354.3,244.6 L355.8,244.0 L357.3,243.3 L358.8,242.7 L360.3,242.0 L361.8,241.4 L363.3,240.7 L364.8,240.0 L366.3,239.3 L367.8,238.6 L369.3,237.8 L370.8,237.1 L372.3,236.3 L373.8,235.6 L375.3,234.8 L376.8,234.0 L378.3,233.2 L379.8,232.4 L381.3,231.6 L382.8,230.7 L384.3,229.9 L385.8,229.1 L387.3,228.2 L388.8,227.4 L390.3,226.5 L391.8,225.7 L393.3,224.8 L394.8,224.0 L396.3,223.1 L397.8,222.3 L399.3,221.5 L400.8,220.7 L402.3,220.0 L403.8,219.2 L405.3,218.5 L406.8,217.8 L408.3,217.1 L409.8,216.4 L411.3,215.8 L412.1,215.5" stroke="#e61212"/>
<path d="M325.8,309.8 L327.3,309.5 L328.8,309.3 L330.3,308.9 L331.8,308.6 L333.3,308.1 L334.8,307.7 L336.3,307.2 L337.8,306.7 L339.3,306.2 L340.8,305.6 L342.3,305.0 L343.8,304.4 L345.3,303.7 L346.8,303.0 L348.3,302.2 L349.8,301.5 L351.3,300.7 L352.8,299.8 L354.3,299.0 L355.8,298.1 L357.3,297.2 L358.8,296.2 L360.3,295.2 L361.8,294.2 L363.3,293.2 L364.8,292.2 L366.3,291.1 L367.8,290.1 L369.3,289.0 L370.8,287.9 L372.3,286.9 L373.8,285.8 L375.3,284.7 L376.8,283.7 L378.3,282.6 L379.8,281.6 L381.3,280.6 L382.8,279.6 L384.3,278.6 L385.8,277.7 L387.3,276.8 L388.8,275.9 L390.3,275.0 L391.8,274.2 L393.3,273.4 L394.8,272.6 L396.3,271.9 L397.8,271.2 L399.3,270.6 L400.8,270.0 L402.3,269.5 L403.8,269.0 L405.3,268.6 L406.8,268.2 L408.3,267.8 L409.8,267.5 L411.3,267.2 L412.8,267.0 L414.3,266.8 L415.8,266.6 L417.3,266.5 L418.8,266.4 L420.3,266.4 L421.8,266.3 L423.3,266.3 L424.8,266.3 L426.3,266.4 L427.8,266.4 L429.3,266.5 L430.8,266.6 L432.3,266.8 L433.8,266.9 L435.3,267.1 L436.8,267.3 L438.3,267.6 L439.8,267.8 L441.3,268.1 L442.8,268.4 L444.3,268.7 L445.8,269.1 L447.3,269.5 L448.8,269.9 L450.3,270.3 L451.8,270.7 L453.3,271.2 L454.8,271.7 L456.3,272.2 L457.8,272.7 L459.3,273.3 L460.8,273.8 L462.3,274.4 L463.8,275.0 L465.3,275.7 L466.8,276.3 L468.3,277.0 L469.8,277.7 L471.3,278.4 L472.8,279.1 L474.3,279.8 L475.8,280.6 L477.3,281.4 L478.8,282.2 L480.3,283.0 L481.8,283.8 L483.3,284.6 L484.8,285.5 L486.3,286.3 L487.8,287.2 L489.3,288.0 L490.8,288.9 L492.3,289.8 L493.8,290.6 L495.3,291.5 L496.8,292.4 L498.3,293.2 L499.8,294.1 L501.3,294.9 L502.8,295.8 L504.3,296.6 L505.8,297.4 L507.3,298.2 L508.8,299.0 L510.3,299.8 L511.8,300.5 L513.3,301.2 L514.8,302.0 L516.3,302.6 L517.8,303.3 L519.3,303.9 L519.4,304.0" stroke="#e61212"/>
<path d="M325.8,311.4 L327.3,311.1 L328.8,310.8 L330.3,310.5 L331.8,310.1 L333.3,309.6 L334.8,309.1 L336.3,308.6 L337.8,308.1 L339.3,307.5 L340.8,306.9 L342.3,306.2 L343.8,305.5 L345.3,304.8 L346.8,304.0 L348.3,303.2 L349.8,302.4 L351.3,301.6 L352.8,300.7 L354.3,299.8 L355.8,298.9 L357.3,298.0 L358.8,297.0 L360.3,296.0 L361.8,295.0 L363.3,294.0 L364.8,293.0 L366.3,291.9 L367.8,290.9 L369.3,289.8 L370.8,288.7 L372.3,287.6 L373.8,286.5 L375.3,285.4 L376.8,284.3 L378.3,283.2 L379.8,282.2 L381.3,281.1 L382.8,280.0 L384.3,279.0 L385.8,278.0 L387.3,277.0 L388.8,276.0 L390.3,275.1 L391.8,274.1 L393.3,273.3 L394.8,272.4 L396.3,271.6 L397.8,270.9 L399.3,270.2 L400.8,269.6 L401.1,269.4" stroke="#e61212"/>
<path d="M325.8,338.0 L327.3,337.7 L328.8,337.3 L330.3,337.0 L331.8,336.7 L333.3,336.4 L334.8,336.1 L336.3,335.8 L337.8,335.5 L339.3,335.2 L340.8,335.0 L342.3,334.7 L343.8,334.4 L345.3,334.2 L346.8,333.9 L348.3,333.7 L349.8,333.5 L351.3,333.2 L352.8,333.0 L354.3,332.8 L355.8,332.6 L357.3,332.4 L358.8,332.2 L360.3,332.0 L361.8,331.8 L363.3,331.6 L364.8,331.5 L366.3,331.3 L367.8,331.1 L369.3,331.0 L370.8,330.8 L372.3,330.7 L373.8,330.5 L375.3,330.4 L376.8,330.3 L378.3,330.1 L379.8,330.0 L381.3,329.9 L382.8,329.8 L384.3,329.7 L385.8,329.6 L387.3,329.5 L388.8,329.4 L390.3,329.3 L391.8,329.2 L393.3,329.2 L394.8,329.1 L396.3,329.0 L397.8,329.0 L399.3,328.9 L400.8,328.9 L402.3,328.8 L403.8,328.8 L405.3,328.7 L406.8,328.7 L408.3,328.7 L409.8,328.7 L411.3,328.6 L412.8,328.6 L414.3,328.6 L415.8,328.6 L417.3,328.6 L418.8,328.6 L420.3,328.6 L421.8,328.6 L423.3,328.6 L424.8,328.7 L426.3,328.7 L427.8,328.7 L429.3,328.7 L430.8,328.8 L432.3,328.8 L433.8,328.9 L435.3,328.9 L436.8,328.9 L438.3,329.0 L439.8,329.1 L441.3,329.1 L442.8,329.2 L444.3,329.2 L445.8,329.3 L447.3,329.4 L448.8,329.5 L450.3,329.5 L451.8,329.6 L453.3,329.7 L454.8,329.8 L456.3,329.9 L457.8,330.0 L459.3,330.1 L460.8,330.2 L462.3,330.3 L463.8,330.4 L465.3,330.5 L466.8,330.6 L468.3,330.7 L469.8,330.8 L471.3,330.9 L472.8,331.1 L474.3,331.2 L475.8,331.3 L477.3,331.4 L478.8,331.6 L480.3,331.7 L481.8,331.8 L483.3,332.0 L484.8,332.1 L486.3,332.2 L487.8,332.4 L489.3,332.5 L490.8,332.7 L492.3,332.8 L493.8,333.0 L495.3,333.1 L496.8,333.3 L498.3,333.4 L499.8,333.6 L501.3,333.7 L502.8,333.9 L504.3,334.1 L505.8,334.2 L507.3,334.4 L508.8,334.5 L510.3,334.7 L511.8,334.9 L513.3,335.0 L514.8,335.2 L516.3,335.4 L517.8,335.6 L519.3,335.7 L519.4,335.7" stroke="#e61212"/>
<path d="M359.0,352.8 L360.5,351.0 L362.0,349.2 L363.5,347.6 L365.0,346.2 L366.5,344.8 L368.0,343.5 L369.5,342.3 L371.0,341.2 L372.5,340.3 L374.0,339.3 L375.5,338.5 L377.0,337.7 L378.5,337.1 L380.0,336.4 L381.5,335.9 L383.0,335.3 L384.5,334.9 L386.0,334.4 L387.5,334.1 L389.0,333.7 L390.5,333.4 L392.0,333.1 L393.5,332.8 L395.0,332.6 L396.5,332.3 L398.0,332.1 L399.5,331.9 L401.0,331.8 L402.5,331.6 L404.0,331.5 L405.5,331.4 L407.0,331.3 L408.5,331.2 L410.0,331.1 L411.5,331.1 L413.0,331.0 L414.5,331.0 L416.0,331.0 L417.5,331.0 L419.0,331.0 L420.5,331.0 L422.0,331.0 L423.5,331.0 L425.0,331.0 L426.5,331.0 L428.0,331.1 L429.5,331.1 L431.0,331.1 L432.5,331.2 L434.0,331.2 L435.5,331.3 L437.0,331.4 L438.5,331.5 L440.0,331.5 L441.5,331.6 L443.0,331.7 L444.5,331.9 L446.0,332.0 L447.5,332.1 L449.0,332.3 L450.5,332.4 L452.0,332.6 L453.5,332.8 L455.0,332.9 L456.5,333.1 L458.0,333.4 L459.5,333.6 L461.0,333.8 L462.5,334.1 L464.0,334.3 L465.5,334.6 L467.0,334.9 L468.5,335.2 L470.0,335.6 L471.5,335.9 L473.0,336.2 L474.5,336.6 L476.0,337.0 L477.5,337.4 L479.0,337.8 L480.5,338.3 L482.0,338.7 L483.5,339.2 L485.0,339.7 L486.5,340.2 L488.0,340.8 L489.5,341.3 L491.0,341.9 L492.5,342.5 L494.0,343.1 L495.5,343.7 L497.0,344.4 L498.5,345.0 L500.0,345.7 L501.5,346.5 L503.0,347.2 L504.5,348.0 L506.0,348.8 L507.5,349.6 L509.0,350.4 L510.5,351.3 L512.0,352.2 L513.4,353.0" stroke="#e61212"/>
</g>

<!-- frames -->
<g fill="none" stroke="#484848" stroke-width="1.25">
<rect x="42.05" y="32.05" width="193.9" height="321.2"/>
<rect x="325.85" y="32.45" width="193.45" height="320.3"/>
</g>
<!-- ticks -->
<g stroke="#666" stroke-width="1">
<path d="M42,139.1h1.6 M42,246.2h1.6 M235.9,139.1h-1.6 M235.9,246.2h-1.6 M61.2,353.3v-1.6 M100,353.3v-1.6 M139.4,353.3v-1.6 M178.2,353.3v-1.6 M217,353.3v-1.6 M61.2,32v1.6 M100,32v1.6 M139.4,32v1.6 M178.2,32v1.6 M217,32v1.6"/>
<path d="M325.8,139.1h1.6 M325.8,245.8h1.6 M519.3,139.1h-1.6 M519.3,245.8h-1.6 M345,352.7v-1.6 M383.8,352.7v-1.6 M422.5,352.7v-1.6 M461.2,352.7v-1.6 M499.6,352.7v-1.6 M345,32.4v1.6 M383.8,32.4v1.6 M422.5,32.4v1.6 M461.2,32.4v1.6 M499.6,32.4v1.6"/>
</g>

<!-- titles -->
<g class="t">
<text x="49.3" y="18.4">GaAs</text><text class="s" x="99.2" y="25.5">0.95</text><text x="125.6" y="18.4">Bi</text><text class="s" x="143.8" y="25.5">0.05</text><text x="171.0" y="18.4">/</text><text x="177.7" y="18.4">GaAs</text>
<text x="331.9" y="15.1">GaAs</text><text class="s" x="381.6" y="22.0">0.90</text><text x="409.4" y="15.1">Bi</text><text class="s" x="426.9" y="22.0">0.1</text><text x="445.2" y="15.1">/</text><text x="452.4" y="15.1">GaAs</text>
</g>

<!-- y tick labels -->
<g class="n" text-anchor="end">
<text x="38" y="30.9">2</text>
<text x="38.9" y="137.4">1</text>
<text x="38" y="244.9">0</text>
<text x="39" y="351.9">-1</text>
<text x="321.6" y="30.9">2</text>
<text x="322.5" y="137.4">1</text>
<text x="321.6" y="244.9">0</text>
<text x="322.6" y="351.9">-1</text>
</g>
<!-- x tick labels -->
<g class="n" text-anchor="middle">
<text x="69" y="372.2">1.2</text>
<text x="107.8" y="372.2">0.6</text>
<text x="146" y="372.2">0.0</text>
<text x="185.3" y="372.2">0.6</text>
<text x="224.5" y="372.2">1.2</text>
<text x="352.5" y="372.2">1.2</text>
<text x="390.8" y="372.2">0.6</text>
<text x="430" y="372.2">0.0</text>
<text x="469.2" y="372.2">0.6</text>
<text x="508" y="372.2">1.2</text>
</g>
<!-- axis labels -->
<text class="a" x="101.3" y="404.1">k(1/nm)</text>
<text class="a" x="384.8" y="403.8">k(1/nm)</text>
<text class="e" transform="translate(14.7,246.4) rotate(-90)">Energy (eV)</text>
<text class="e" transform="translate(297.4,246.9) rotate(-90)">Energy (eV)</text>

<!-- legends -->
<g stroke-width="2" fill="none">
<path d="M98.5,172.3H135.5" stroke="#1a1ab0"/>
<path d="M98.5,191.8H135.5" stroke="#d01828"/>
<path d="M379.5,150.3H415.2" stroke="#1a1ab0"/>
<path d="M379.5,170H415.2" stroke="#d01828"/>
</g>
<g class="g">
<text x="139.3" y="176.9">8<tspan class="kp">k·p</tspan></text>
<text x="140.5" y="196.8">14<tspan class="kp">k·p</tspan></text>
<text x="419.8" y="155.3">8<tspan class="kp">k·p</tspan></text>
<text x="420.6" y="175">14<tspan class="kp">k·p</tspan></text>
</g>

<!-- L Gamma X -->
<g stroke="#a0a0a0" stroke-width="1.2" fill="none">
<path d="M69,339.3H131.5"/>
<path d="M155.5,339.8H212"/>
<path d="M347,343.3H411"/>
<path d="M436.5,344.4H498"/>
</g>
<g fill="#111" stroke="none">
<path d="M64.8,339.3l5.8,-2v4z"/>
<path d="M215.8,339.8l-5.8,-2v4z"/>
<path d="M343.6,343.3l5.8,-2v4z"/>
<path d="M501.8,344.4l-5.6,-1.9v3.8z"/>
</g>
<g class="lx">
<text class="lx" x="51.4" y="345.2">L</text>
<text class="lx" x="220.3" y="346.2">X</text>
<text class="lx" x="332.0" y="348.0">L</text>
<text class="lx" x="504.9" y="349.1">X</text>
</g>
<text class="sym" x="135.8" y="344.5">Γ</text>
<text class="sym" x="420.0" y="347.9">Γ</text>
</svg>
</body></html>
